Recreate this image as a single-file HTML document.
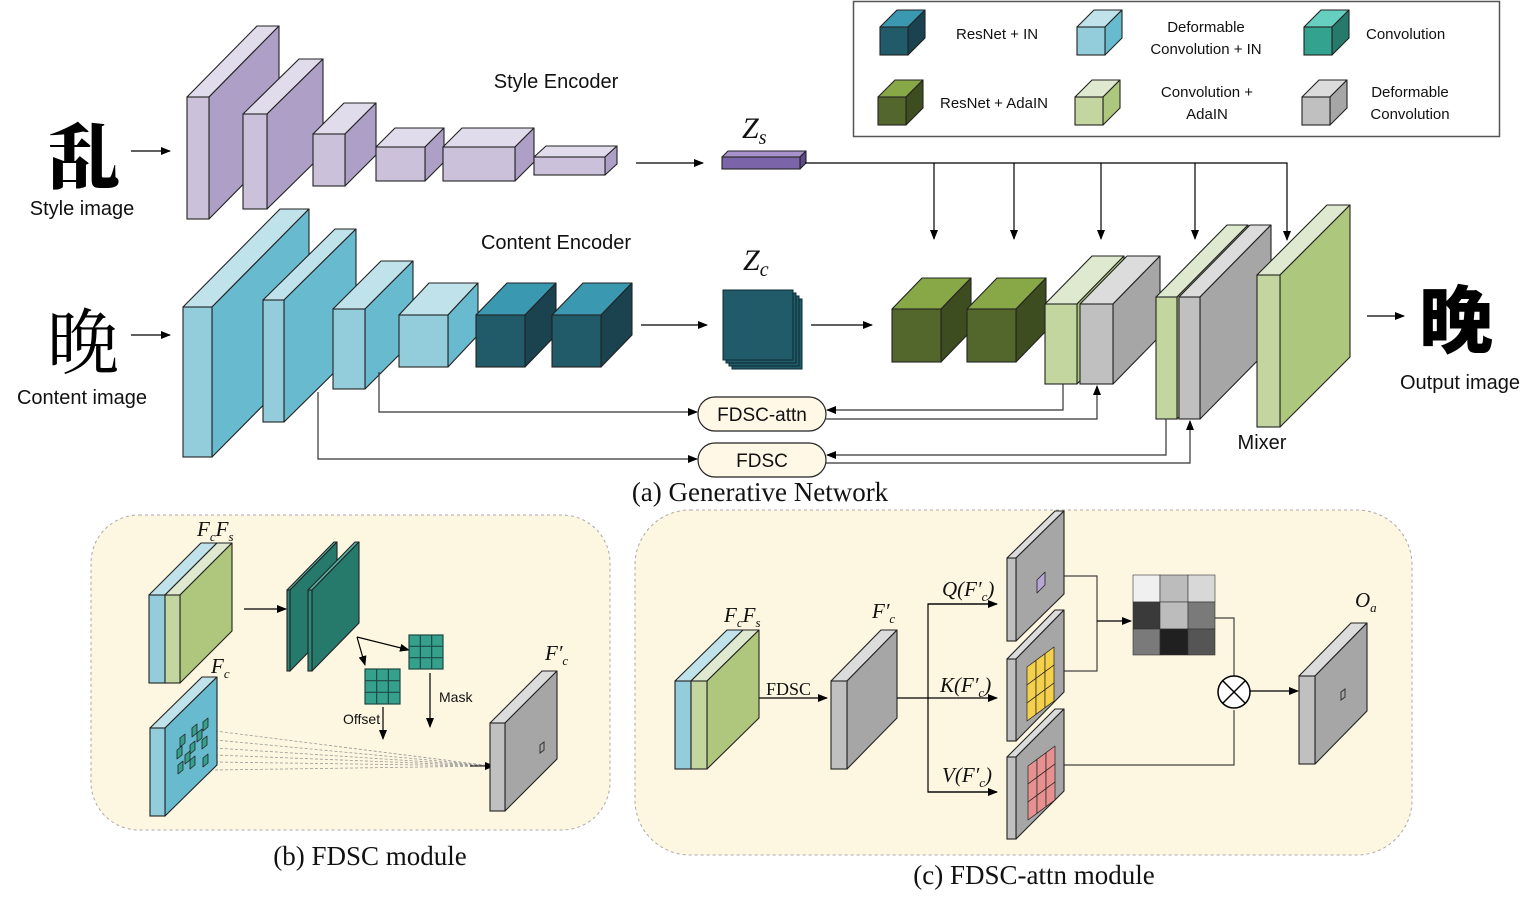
<!DOCTYPE html>
<html><head><meta charset="utf-8"><style>
html,body{margin:0;padding:0;background:#fff;width:1538px;height:906px;overflow:hidden}
svg{display:block}
.s{font-family:"Liberation Sans","DejaVu Sans",sans-serif;fill:#111}
.r{font-family:"Liberation Serif",serif;fill:#111}
.i{font-family:"Liberation Serif",serif;font-style:italic;fill:#111}
</style></head><body>
<svg id="g" width="1538" height="906" viewBox="0 0 1538 906" xmlns="http://www.w3.org/2000/svg">
<defs>
<marker id="a" markerWidth="10" markerHeight="8" refX="9" refY="4" orient="auto" markerUnits="userSpaceOnUse"><path d="M0,0 L10,4 L0,8 Z" fill="#000"/></marker>
</defs>
<!-- panels -->
<rect x="91" y="515" width="519" height="315" rx="48" fill="#fdf6e0" stroke="#aaa" stroke-dasharray="3,3"/>
<rect x="635" y="510" width="777" height="345" rx="55" fill="#fdf6e0" stroke="#aaa" stroke-dasharray="3,3"/>
<!-- legend -->
<rect x="853.5" y="1.5" width="646" height="135" fill="#fff" stroke="#555" stroke-width="1.5"/>
<g id="shapes"></g>
<!-- connectors -->
<g stroke="#000" stroke-width="1.2" fill="none">
<line x1="131" y1="151" x2="170" y2="151" marker-end="url(#a)"/>
<line x1="131" y1="335" x2="170" y2="335" marker-end="url(#a)"/>
<line x1="636" y1="163" x2="703" y2="163" marker-end="url(#a)"/>
<line x1="641" y1="325" x2="707" y2="325" marker-end="url(#a)"/>
<line x1="811" y1="325" x2="872" y2="325" marker-end="url(#a)"/>
<line x1="1367" y1="316" x2="1404" y2="316" marker-end="url(#a)"/>
<polyline points="805,163 1287,163 1287,240" marker-end="url(#a)"/>
<line x1="934" y1="163" x2="934" y2="239" marker-end="url(#a)"/>
<line x1="1014" y1="163" x2="1014" y2="239" marker-end="url(#a)"/>
<line x1="1101" y1="163" x2="1101" y2="239" marker-end="url(#a)"/>
<line x1="1195" y1="163" x2="1195" y2="239" marker-end="url(#a)"/>
</g>
<g stroke="#333" stroke-width="1.2" fill="none">
<polyline points="379,372 379,412 697,412" marker-end="url(#a)"/>
<polyline points="318,392 318,459 697,459" marker-end="url(#a)"/>
<polyline points="1063,384 1063,410 827,410" marker-end="url(#a)"/>
<polyline points="826,419 1097,419 1097,386" marker-end="url(#a)"/>
<polyline points="1166,419 1166,455 827,455" marker-end="url(#a)"/>
<polyline points="826,463 1190,463 1190,421" marker-end="url(#a)"/>
</g>
<rect x="698" y="397" width="128" height="34" rx="17" fill="#fff8e6" stroke="#222" stroke-width="1.2"/>
<rect x="698" y="443" width="128" height="34" rx="17" fill="#fff8e6" stroke="#222" stroke-width="1.2"/>
<text class="s" x="762" y="421" font-size="19" text-anchor="middle">FDSC-attn</text>
<text class="s" x="762" y="467" font-size="19" text-anchor="middle">FDSC</text>
<!-- texts -->
<text class="s" x="556" y="88" font-size="20" text-anchor="middle">Style Encoder</text>
<text class="s" x="556" y="249" font-size="20" text-anchor="middle">Content Encoder</text>
<text class="s" x="1262" y="449" font-size="20" text-anchor="middle">Mixer</text>
<text class="s" x="82" y="215" font-size="20" text-anchor="middle">Style image</text>
<text class="s" x="82" y="404" font-size="20" text-anchor="middle">Content image</text>
<text class="s" x="1460" y="389" font-size="20" text-anchor="middle">Output image</text>
<text x="84" y="183" font-size="72" font-weight="bold" text-anchor="middle" style="font-family:'Noto Serif CJK SC','Noto Sans CJK SC',serif;font-weight:900">乱</text>
<text x="83" y="368" font-size="72" text-anchor="middle" style="font-family:'Noto Serif CJK SC',serif">晚</text>
<text x="1456" y="347" font-size="74" text-anchor="middle" style="font-family:'Noto Sans CJK SC',sans-serif;font-weight:900">晚</text>
<text class="i" x="742" y="138" font-size="30">Z<tspan font-size="20" dy="6">s</tspan></text>
<text class="i" x="743" y="270" font-size="30">Z<tspan font-size="20" dy="6">c</tspan></text>
<text class="r" x="760" y="501" font-size="27" text-anchor="middle">(a) Generative Network</text>
<text class="r" x="370" y="865" font-size="27" text-anchor="middle">(b) FDSC module</text>
<text class="r" x="1034" y="884" font-size="27" text-anchor="middle">(c) FDSC-attn module</text>
<!-- legend text -->
<g class="s" font-size="15">
<text x="956" y="39">ResNet + IN</text>
<text x="1206" y="32" text-anchor="middle">Deformable</text>
<text x="1206" y="54" text-anchor="middle">Convolution + IN</text>
<text x="1366" y="39">Convolution</text>
<text x="940" y="108">ResNet + AdaIN</text>
<text x="1207" y="97" text-anchor="middle">Convolution +</text>
<text x="1207" y="119" text-anchor="middle">AdaIN</text>
<text x="1410" y="97" text-anchor="middle">Deformable</text>
<text x="1410" y="119" text-anchor="middle">Convolution</text>
</g>
<!-- panel b labels/arrows -->
<g stroke="#000" stroke-width="1.2" fill="none">
<line x1="244" y1="609" x2="286" y2="609" marker-end="url(#a)"/>
<line x1="357" y1="637" x2="409" y2="650" marker-end="url(#a)"/>
<line x1="357" y1="637" x2="365" y2="665" marker-end="url(#a)"/>
<line x1="383" y1="707" x2="383" y2="739" marker-end="url(#a)"/>
<line x1="430" y1="673" x2="430" y2="727" marker-end="url(#a)"/>
</g>
<g stroke="#999" stroke-width="0.8" stroke-dasharray="3,2" fill="none">
<line x1="215" y1="731" x2="492" y2="766"/><line x1="215" y1="740" x2="492" y2="766"/>
<line x1="215" y1="748" x2="492" y2="766"/><line x1="215" y1="755" x2="492" y2="766"/>
<line x1="215" y1="762" x2="492" y2="766"/><line x1="215" y1="770" x2="492" y2="766"/>
</g>
<line x1="470" y1="766" x2="494" y2="766" stroke="#000" marker-end="url(#a)"/>
<text class="s" x="343" y="724" font-size="14">Offset</text>
<text class="s" x="439" y="702" font-size="14">Mask</text>
<text class="i" x="197" y="536" font-size="21">F<tspan font-size="13" dy="5">c</tspan><tspan dy="-5">F</tspan><tspan font-size="13" dy="5">s</tspan></text>
<text class="i" x="211" y="673" font-size="21">F<tspan font-size="13" dy="5">c</tspan></text>
<text class="i" x="545" y="660" font-size="21">F′<tspan font-size="13" dy="5">c</tspan></text>
<!-- panel c -->
<g stroke="#000" stroke-width="1.2" fill="none">
<line x1="707" y1="698" x2="827" y2="698" marker-end="url(#a)"/>
<line x1="885" y1="698" x2="997" y2="698" marker-end="url(#a)"/>
<polyline points="997,604 928,604 928,792 997,792"/>
<line x1="928" y1="604" x2="997" y2="604" marker-end="url(#a)"/>
<line x1="928" y1="792" x2="997" y2="792" marker-end="url(#a)"/>
<polyline points="1064,576 1097,576 1097,671 1064,671" stroke="#444"/>
<line x1="1097" y1="621" x2="1131" y2="621" marker-end="url(#a)"/>
<polyline points="1215,618 1234,618 1234,678" stroke="#444"/>
<polyline points="1064,765 1234,765 1234,710" stroke="#444"/>
<line x1="1250" y1="691" x2="1298" y2="691" marker-end="url(#a)"/>
</g>
<circle cx="1234" cy="692" r="16" fill="#fff" stroke="#000" stroke-width="1.5"/>
<path d="M1223,681 L1245,703 M1245,681 L1223,703" stroke="#000" stroke-width="1.5"/>
<g stroke="#333" stroke-width="0.6">
<rect x="1133" y="575" width="27" height="27" fill="#f0f0f0"/><rect x="1160" y="575" width="28" height="27" fill="#bcbcbc"/><rect x="1188" y="575" width="27" height="27" fill="#d8d8d8"/>
<rect x="1133" y="602" width="27" height="27" fill="#3a3a3a"/><rect x="1160" y="602" width="28" height="27" fill="#bcbcbc"/><rect x="1188" y="602" width="27" height="27" fill="#7a7a7a"/>
<rect x="1133" y="629" width="27" height="26" fill="#7a7a7a"/><rect x="1160" y="629" width="28" height="26" fill="#202020"/><rect x="1188" y="629" width="27" height="26" fill="#555"/>
</g>
<text class="r" x="766" y="695" font-size="18">FDSC</text>
<text class="i" x="724" y="622" font-size="21">F<tspan font-size="13" dy="5">c</tspan><tspan dy="-5">F</tspan><tspan font-size="13" dy="5">s</tspan></text>
<text class="i" x="872" y="618" font-size="21">F′<tspan font-size="13" dy="5">c</tspan></text>
<text class="i" x="942" y="596" font-size="21">Q(F′<tspan font-size="13" dy="5">c</tspan><tspan dy="-5">)</tspan></text>
<text class="i" x="940" y="692" font-size="21">K(F′<tspan font-size="13" dy="5">c</tspan><tspan dy="-5">)</tspan></text>
<text class="i" x="942" y="782" font-size="21">V(F′<tspan font-size="13" dy="5">c</tspan><tspan dy="-5">)</tspan></text>
<text class="i" x="1355" y="607" font-size="21">O<tspan font-size="13" dy="5">a</tspan></text>
<g id="top"></g>
</svg>
<script>
var NS="http://www.w3.org/2000/svg";
var G=document.getElementById("shapes"), T=document.getElementById("top");
function el(p,tag,at){var e=document.createElementNS(NS,tag);for(var k in at)e.setAttribute(k,at[k]);p.appendChild(e);return e;}
function poly(p,pts,f,sw){return el(p,"polygon",{points:pts.map(function(q){return q.join(",")}).join(" "),fill:f,stroke:"#222","stroke-width":sw||1.1,"stroke-linejoin":"round"});}
function cube(x,y,w,h,dx,dy,fr,tp,sd,p){p=p||G;
 poly(p,[[x,y],[x+dx,y-dy],[x+w+dx,y-dy],[x+w,y]],tp);
 poly(p,[[x+w,y],[x+w+dx,y-dy],[x+w+dx,y+h-dy],[x+w,y+h]],sd);
 el(p,"rect",{x:x,y:y,width:w,height:h,fill:fr,stroke:"#222","stroke-width":1.1});}
var P=["#cbc1da","#e0dcec","#ae9fc6"], LB=["#93cddb","#c0e2ea","#68bace"], DT=["#215a68","#3a98b0","#1a424f"],
 DG=["#53672c","#88a848","#3d4d20"], LG=["#c3d69f","#dfe9cf","#adc77c"], GR=["#c0c0c0","#dcdcdc","#a6a6a6"], TC=["#33a390","#66cfc0","#267a6c"];
function C(x,y,w,h,dx,dy,c,p){cube(x,y,w,h,dx,dy,c[0],c[1],c[2],p);}
// style encoder
C(187,97,22,122,70,71,P);C(243,114,24,95,56,55,P);C(313,134,32,52,31,31,P);
C(376,147,49,34,19,19,P);C(443,147,72,34,19,19,P);C(534,157,71,18,12,11,P);
// content encoder
C(183,307,29,150,97,98,LB);C(263,300,21,122,72,71,LB);C(333,309,32,80,48,48,LB);
C(399,315,49,52,30,32,LB);C(476,315,49,52,31,32,DT);C(552,315,49,52,31,32,DT);
// Zs, Zc
C(722,157,78,12,6,6,["#7c64a8","#a892cc","#5e4a86"]);
for(var k=3;k>=0;k--){el(G,"rect",{x:723+k*3,y:290+k*3,width:70,height:70,fill:"#215a68",stroke:"#0c2a33","stroke-width":1});}
// decoder
C(892,309,49,53,30,31,DG);C(967,309,49,53,30,31,DG);
C(1045,304,32,80,47,48,LG);C(1080,304,33,80,47,48,GR);
C(1156,297,21,122,71,72,LG);C(1179,297,21,122,71,72,GR);
C(1257,275,23,152,70,70,LG);
// legend
C(880,27,28,28,17,17,DT);C(1077,27,28,28,17,17,LB);C(1304,27,28,28,17,17,TC);
C(878,97,28,28,17,17,DG);C(1075,97,28,28,17,17,LG);C(1302,97,28,28,17,17,GR);
// panel b
C(149,595,16,88,52,52,LB,T);C(165,595,15,88,52,52,["#c3d69f","#dfe9cf","#afc77c"],T);
C(287,590,3,81,47,48,["#2a8a7a","#4fb3a2","#267a6c"],T);C(308,590,4,81,47,48,["#2a8a7a","#4fb3a2","#267a6c"],T);
C(150,728,15,88,52,51,LB,T);C(490,723,15,88,52,52,GR,T);
function grid(x,y,s,f,p,lc){el(p,"rect",{x:x,y:y,width:s,height:s,fill:f,stroke:lc,"stroke-width":1.2});
 for(var i=1;i<3;i++){el(p,"line",{x1:x+s*i/3,y1:y,x2:x+s*i/3,y2:y+s,stroke:lc,"stroke-width":1.2});el(p,"line",{x1:x,y1:y+s*i/3,x2:x+s,y2:y+s*i/3,stroke:lc,"stroke-width":1.2});}}
grid(409,635,34,"#35a08c",T,"#1d4a44");grid(365,669,35,"#35a08c",T,"#1d4a44");
// sample points on Fc
[[180,738],[192,728],[203,722],[177,750],[190,745],[202,740],[178,765],[190,760],[203,758],[197,733],[185,755]].forEach(function(q){
 poly(T,[[q[0],q[1]],[q[0]+5,q[1]-4],[q[0]+5,q[1]+5],[q[0],q[1]+9]],"#35a08c",0.8);});
el(T,"path",{d:"M540,745 l4,-3 l0,8 l-4,3 Z",fill:"none",stroke:"#333"});
// panel c
C(675,681,16,88,52,51,LB,T);C(691,681,16,88,52,51,["#c3d69f","#dfe9cf","#afc77c"],T);
C(831,681,16,88,50,51,GR,T);
C(1007,558,9,83,48,47,GR,T);C(1007,659,9,82,48,49,GR,T);C(1007,757,9,82,48,48,GR,T);
C(1299,676,16,88,52,53,GR,T);
poly(T,[[1037,580],[1045,572],[1045,585],[1037,593]],"#b6a6d6",0.8);
function sgrid(x,y,w,h,sk,f){for(var r=0;r<3;r++)for(var c=0;c<3;c++){var X=x+c*w/3,Y=y+r*h/3-c*sk/3;
 poly(T,[[X,Y],[X+w/3,Y-sk/3],[X+w/3,Y-sk/3+h/3],[X,Y+h/3]],f,0.7);}}
sgrid(1027,667,27,54,20,"#f5d04a");sgrid(1028,766,27,54,20,"#e69090");
el(T,"path",{d:"M1341,692 l4,-3 l0,8 l-4,3 Z",fill:"none",stroke:"#333"});
</script>
</body></html>
